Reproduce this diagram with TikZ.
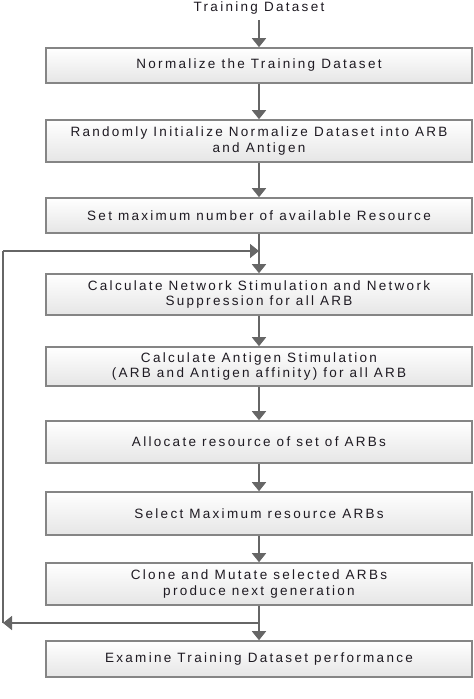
\documentclass[tikz,border=0pt]{standalone}
\usepackage{fontspec}
\setmainfont[LetterSpace=17]{Liberation Sans}
\usetikzlibrary{arrows.meta}
\definecolor{linegray}{HTML}{666666}
\definecolor{boxedge}{HTML}{858585}
\definecolor{txt}{HTML}{1E1A22}
\tikzset{
  stepbox/.style={draw=boxedge, line width=1.6pt, top color=white, bottom color=black!10,
    minimum width=426pt, inner sep=0pt, align=center, text=txt,
    font=\fontsize{13.5}{15.5}\selectfont},
  flow/.style={draw=linegray, line width=1.6pt, -{Triangle[width=14pt,length=9pt]}},
  plain/.style={draw=linegray, line width=1.6pt}
}
\begin{document}
\begin{tikzpicture}[x=1pt,y=-1pt]
\useasboundingbox (0,0) rectangle (474,699);
\node[text=txt, font=\fontsize{13.5}{15.5}\selectfont, inner sep=0pt, anchor=base] (title) at (259,11) {Training Dataset};
\coordinate (t0) at (259,20);
\node[stepbox, minimum height=35pt] (b1) at (259,65.5) {Normalize the Training Dataset};
\node[stepbox, minimum height=42pt] (b2) at (259,141) {Randomly Initialize Normalize Dataset into ARB\\and Antigen};
\node[stepbox, minimum height=35pt] (b3) at (259,215.5) {Set maximum number of available Resource};
\node[stepbox, minimum height=41pt] (b4) at (259,294.5) {Calculate Network Stimulation and Network\\Suppression for all ARB};
\node[stepbox, minimum height=39pt] (b5) at (259,366.5) {Calculate Antigen Stimulation\\(ARB and Antigen affinity) for all ARB};
\node[stepbox, minimum height=42pt] (b6) at (259,442) {Allocate resource of set of ARBs};
\node[stepbox, minimum height=43pt] (b7) at (259,513.5) {Select Maximum resource ARBs};
\node[stepbox, minimum height=42pt] (b8) at (259,584) {Clone and Mutate selected ARBs\\produce next generation};
\node[stepbox, minimum height=36pt] (b9) at (259,659) {Examine Training Dataset performance};
\coordinate (j1) at (259,251);
\coordinate (j2) at (259,623);
\coordinate (L1) at (3,251);
\coordinate (L2) at (3,623);
\draw[flow] (t0) -- (b1.north);
\draw[flow] (b1) -- (b2);
\draw[flow] (b2) -- (b3);
\draw[flow] (b3) -- (b4);
\draw[flow] (b4) -- (b5);
\draw[flow] (b5) -- (b6);
\draw[flow] (b6) -- (b7);
\draw[flow] (b7) -- (b8);
\draw[flow] (b8) -- (b9);
\draw[flow] (j2) -- (L2);
\draw[plain] (L2) -- (L1);
\draw[flow] (L1) -- (j1);
\end{tikzpicture}
\end{document}
